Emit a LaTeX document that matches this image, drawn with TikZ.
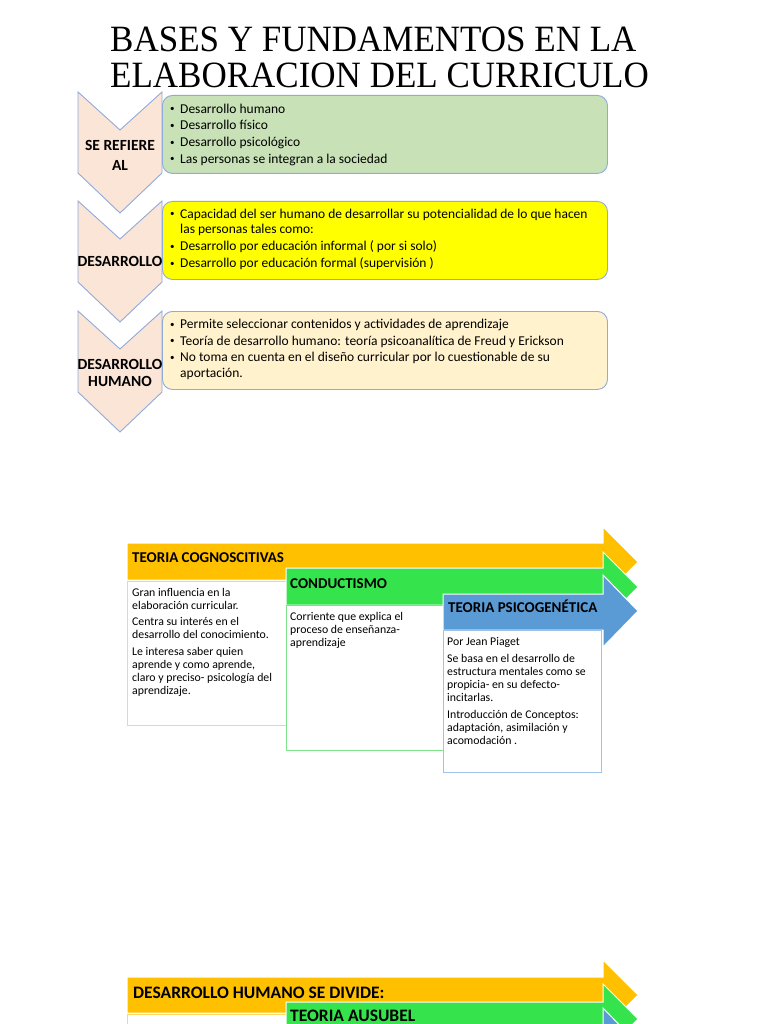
\documentclass[tikz,border=0pt]{standalone}
\usepackage{fontspec}
\setmainfont{Carlito}
\newfontfamily\titlefont{Liberation Serif}
\definecolor{chevfill}{HTML}{FBE5D6}
\definecolor{chevline}{HTML}{8FAADC}
\definecolor{boxgreen}{HTML}{C8E1B7}
\definecolor{boxyellow}{HTML}{FFFF00}
\definecolor{boxcream}{HTML}{FFF2CC}
\definecolor{arrorange}{HTML}{FFC000}
\definecolor{arrgreen}{HTML}{35E34D}
\definecolor{arrblue}{HTML}{5B9BD5}
\definecolor{lineorange}{HTML}{FFD966}
\definecolor{linegreen}{HTML}{7FE38C}
\definecolor{lineblue}{HTML}{9DC3E6}
\newcommand\bul{\makebox[10pt][l]{\fontsize{9}{9}\selectfont\raisebox{1.5pt}{•}}}
\newcommand\ttl[1]{\scalebox{1}[1.06]{#1}}
\begin{document}
\begin{tikzpicture}[x=1pt,y=-1pt,
  chev/.style={fill=chevfill, draw=chevline, line width=0.9pt, line join=miter},
  rbox/.style={draw=chevline, line width=0.9pt, rounded corners=10pt, anchor=north west, inner sep=0pt, minimum width=445pt},
  chevlabel/.style={font=\fontsize{15.5}{17}\selectfont\bfseries, inner sep=0pt, anchor=base},
  btext/.style={font=\fontsize{13.5}{16}\selectfont, inner sep=0pt, anchor=base west},
  bigarrow/.style={draw=white, line width=1pt, line join=miter},
  tbox/.style={fill=white, line width=1pt, anchor=north west, inner sep=0pt},
  alabel/.style={font=\fontsize{15}{17}\selectfont\bfseries, inner sep=0pt, anchor=base west},
  blabel/.style={font=\fontsize{17.5}{19}\selectfont\bfseries, inner sep=0pt, anchor=base west},
  stext/.style={font=\fontsize{11.8}{13}\selectfont, inner sep=0pt, anchor=base west},
  titletext/.style={font=\titlefont\fontsize{35}{37}\selectfont, inner sep=0pt, anchor=base west}
]
\useasboundingbox (0,0) rectangle (768,1024);
\clip (0,0) rectangle (768,1024);
\fill[white] (0,0) rectangle (768,1024);

% title
\node[titletext] (title1) at (110,52) {\ttl{BASES Y FUNDAMENTOS EN LA}};
\node[titletext] (title2) at (110,88) {\ttl{ELABORACION DEL CURRICULO}};

% chevrons
\foreach \t in {92,201,311}{
  \draw[chev] (78,\t) -- (120,\t+38) -- (162,\t) -- (162,\t+81) -- (120,\t+121) -- (78,\t+81) -- cycle;
}

% boxes
\node[rbox, fill=boxgreen, minimum height=78pt] (box1) at (162,95) {};
\node[rbox, fill=boxyellow, minimum height=78pt] (box2) at (162,201) {};
\node[rbox, fill=boxcream, minimum height=78pt] (box3) at (162,311) {};

% chevron labels
\node[chevlabel] (c1a) at (120,151) {SE REFIERE};
\node[chevlabel] (c1b) at (120,171) {AL};
\node[chevlabel] (c2a) at (120,266) {DESARROLLO};
\node[chevlabel] (c3a) at (120,369) {DESARROLLO};
\node[chevlabel] (c3b) at (120,386) {HUMANO};

% box 1 text
\node[btext] (t11) at (170,113.3) {\bul Desarrollo humano};
\node[btext] (t12) at (170,130) {\bul Desarrollo físico};
\node[btext] (t13) at (170,146.7) {\bul Desarrollo psicológico};
\node[btext] (t14) at (170,163.3) {\bul Las personas se integran a la sociedad};

% box 2 text
\node[btext] (t21) at (170,218.5) {\bul Capacidad del ser humano de desarrollar su potencialidad de lo que hacen};
\node[btext] (t22) at (180,233.5) {las personas tales como:};
\node[btext] (t23) at (170,251) {\bul Desarrollo por educación informal ( por si solo)};
\node[btext] (t24) at (170,267.5) {\bul Desarrollo por educación formal (supervisión )};

% box 3 text
\node[btext] (t31) at (170,328.5) {\bul Permite seleccionar contenidos y actividades de aprendizaje};
\node[btext] (t32) at (170,345) {\bul Teoría de desarrollo humano: teoría psicoanalítica de Freud y Erickson};
\node[btext] (t33) at (170,361.5) {\bul No toma en cuenta en el diseño curricular por lo cuestionable de su};
\node[btext] (t34) at (180,377) {aportación.};

% middle section
\fill[arrorange, bigarrow] (127,543) -- (603,543) -- (603,527) -- (638,562) -- (603,597) -- (603,580) -- (127,580) -- cycle;
\node[tbox, draw=lineorange, minimum width=160pt, minimum height=144pt] (mbox1) at (127,581) {};
\node[alabel] (ma) at (132,562.5) {TEORIA COGNOSCITIVAS};

\fill[arrgreen, bigarrow] (286,568) -- (603,568) -- (603,552) -- (638,587) -- (603,622) -- (603,605) -- (286,605) -- cycle;
\node[tbox, draw=linegreen, minimum width=157pt, minimum height=145pt] (mbox2) at (286,605) {};
\node[alabel] (mb) at (290,588) {CONDUCTISMO};

\fill[arrblue, bigarrow] (443,594) -- (603,594) -- (603,575) -- (638,611) -- (603,647) -- (603,630) -- (443,630) -- cycle;
\node[tbox, draw=lineblue, minimum width=158pt, minimum height=142pt] (mbox3) at (443,630) {};
\node[alabel] (mc) at (448,612.5) {TEORIA PSICOGENÉTICA};

% orange box text
\node[stext] (o1) at (132,596) {Gran influencia en la};
\node[stext] (o2) at (132,609) {elaboración curricular.};
\node[stext] (o3) at (132,625) {Centra su interés en el};
\node[stext] (o4) at (132,638) {desarrollo del conocimiento.};
\node[stext] (o5) at (132,655.5) {Le interesa saber quien};
\node[stext] (o6) at (132,668.5) {aprende y como aprende,};
\node[stext] (o7) at (132,681.5) {claro y preciso- psicología del};
\node[stext] (o8) at (132,694.5) {aprendizaje.};

% green box text
\node[stext] (g1) at (290,620) {Corriente que explica el};
\node[stext] (g2) at (290,633) {proceso de enseñanza-};
\node[stext] (g3) at (290,646) {aprendizaje};

% blue box text
\node[stext] (p1) at (447,645) {Por Jean Piaget};
\node[stext] (p2) at (447,662) {Se basa en el desarrollo de};
\node[stext] (p3) at (447,675) {estructura mentales como se};
\node[stext] (p4) at (447,688) {propicia- en su defecto-};
\node[stext] (p5) at (447,701) {incitarlas.};
\node[stext] (p6) at (447,718) {Introducción de Conceptos:};
\node[stext] (p7) at (447,731) {adaptación, asimilación y};
\node[stext] (p8) at (447,744.5) {acomodación .};

% bottom section
\fill[arrorange, bigarrow] (127,977) -- (603,977) -- (603,960) -- (638,995) -- (603,1030) -- (603,1013) -- (127,1013) -- cycle;
\node[tbox, draw=lineorange, minimum width=160pt, minimum height=100pt] (lbox1) at (127,1014) {};
\node[blabel] (la) at (133,998) {DESARROLLO HUMANO SE DIVIDE:};

\fill[arrgreen, bigarrow] (286,1002) -- (603,1002) -- (603,984) -- (638,1019) -- (603,1054) -- (603,1038) -- (286,1038) -- cycle;
\node[blabel] (lb) at (290,1021) {TEORIA AUSUBEL};

\fill[arrblue, bigarrow] (443,1027) -- (603,1027) -- (603,1008) -- (638,1044) -- (603,1080) -- (603,1063) -- (443,1063) -- cycle;
\end{tikzpicture}
\end{document}
